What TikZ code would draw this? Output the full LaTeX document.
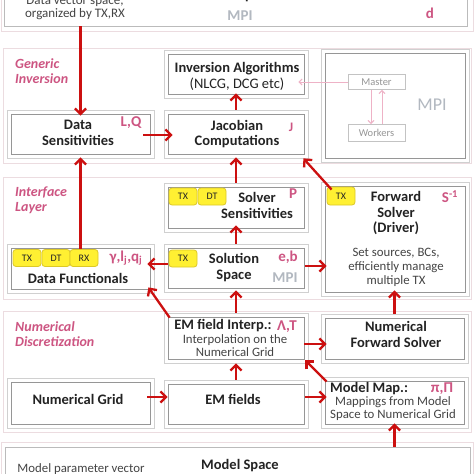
\documentclass[tikz,border=0pt]{standalone}
\usepackage{fontspec}
\setmainfont{Carlito}
\usetikzlibrary{arrows.meta}
\definecolor{arrred}{RGB}{204,16,16}
\definecolor{pinklab}{RGB}{205,85,130}
\definecolor{secline}{RGB}{236,220,224}
\definecolor{boxout}{RGB}{208,208,208}
\definecolor{boxin}{RGB}{150,150,150}
\definecolor{txtc}{RGB}{35,35,35}
\definecolor{mpigray}{RGB}{178,184,192}
\definecolor{tagfill}{RGB}{255,240,50}
\definecolor{tagline}{RGB}{220,200,40}
\definecolor{mpiarr}{RGB}{238,178,198}
\definecolor{mwline}{RGB}{195,195,195}
\definecolor{mwtext}{RGB}{150,150,150}
\begin{document}
\begin{tikzpicture}[x=1pt,y=-1pt,
  sec/.style={draw=secline, line width=0.8pt},
  box/.style={draw=boxout, line width=0.8pt, fill=white, inner sep=0pt,
    path picture={\draw[boxin, line width=0.9pt]
      ([shift={(4pt,-4pt)}]path picture bounding box.north west) rectangle
      ([shift={(-4pt,4pt)}]path picture bounding box.south east);}},
  plainbox/.style={draw=boxout!90!black, line width=0.8pt, fill=white, inner sep=0pt},
  bt/.style={text=txtc, font=\fontsize{14.5}{15.5}\selectfont\bfseries, align=center, inner sep=0pt},
  rt/.style={text=txtc!85, font=\fontsize{12.8}{13.5}\selectfont, align=center, inner sep=0pt},
  pl/.style={text=pinklab, font=\fontsize{15}{15}\selectfont\bfseries, inner sep=0pt},
  seclab/.style={text=pinklab, font=\fontsize{14}{15}\selectfont\bfseries\itshape, align=left, anchor=west, inner sep=0pt},
  tag/.style={draw=tagline, fill=tagfill, rounded corners=3pt, line width=0.8pt,
    minimum width=28pt, minimum height=17pt, inner sep=0pt,
    font=\fontsize{10}{10}\selectfont, text=txtc},
  arr/.style={draw=arrred, line width=2.3pt, -{Straight Barb[length=5.5pt,width=11pt]}},
  parr/.style={draw=mpiarr, line width=1pt, -{Straight Barb[length=3pt,width=6pt]}},
  mw/.style={draw=mwline, line width=0.8pt, minimum width=57pt, inner sep=0pt,
    font=\fontsize{10.5}{10.5}\selectfont, text=mwtext, fill=white},
  mpil/.style={text=mpigray, inner sep=0pt}
]
\useasboundingbox (0,0) rectangle (474,474);
\fill[white] (0,0) rectangle (474,474);

% sections
\draw[sec] (1,-40) rectangle (473,31);
\draw[sec] (3,48) rectangle (471,163);
\draw[sec] (3,177) rectangle (471,299);
\draw[sec] (3,311) rectangle (471,432);
\draw[sec] (1,442) rectangle (473,520);

\node[seclab] (lgi) at (15,71.5) {Generic\\Inversion};
\node[seclab] (lil) at (15,200.5) {Interface\\Layer};
\node[seclab] (lnd) at (15,334.5) {Numerical\\Discretization};

% top data space box
\node[plainbox, minimum width=463pt, minimum height=62pt] (datavec) at (235.5,-5) {};
\node[bt] (tdataspace) at (240,-4) {Data Space};
\node[rt, font=\fontsize{13}{13}\selectfont] (tdatavec) at (75,7.5) {Data vector space,\\organized by TX,RX};
\node[mpil, font=\fontsize{15}{15}\selectfont\bfseries] (mpitop) at (240,16) {MPI};
\node[pl] (ld) at (430,13) {d};

% generic inversion
\node[box, minimum width=144pt, minimum height=48pt] (invalg) at (236,74) {};
\node[bt] (tinv1) at (237,69) {Inversion Algorithms};
\node[bt, font=\fontsize{14.5}{15.5}\selectfont] (tinv2) at (237,84) {(NLCG, DCG etc)};

\node[box, minimum width=144pt, minimum height=48pt] (jac) at (236,134) {};
\node[bt] (tjac) at (237,134) {Jacobian\\Computations};
\node[pl, font=\fontsize{13}{13}\selectfont\bfseries] (lj) at (291,127) {J};

\node[box, minimum width=147pt, minimum height=48pt] (datasens) at (80.5,134) {};
\node[bt] (tds) at (78,133) {Data\\Sensitivities};
\node[pl] (llq) at (131,123) {L,Q};

\node[box, minimum width=148pt, minimum height=113pt] (mpibox) at (395,105.5) {};
\node[mpil, font=\fontsize{18}{18}\selectfont] (mpibig) at (432,105) {MPI};
\node[mw, minimum height=15pt] (master) at (376.5,82) {Master};
\node[mw, minimum height=17pt] (workers) at (376.5,133) {Workers};

% interface layer
\node[box, minimum width=144pt, minimum height=49pt] (solsens) at (236,207.5) {};
\node[tag] (sstx) at (183,196.5) {TX};
\node[tag] (ssdt) at (212,196.5) {DT};
\node[bt] (tss) at (257,205.5) {Solver\\Sensitivities};
\node[pl] (lp) at (293,194) {P};

\node[box, minimum width=144pt, minimum height=48pt] (solspace) at (236,268) {};
\node[tag] (sptx) at (183,258.5) {TX};
\node[bt] (tsp) at (234,267.5) {Solution\\Space};
\node[pl] (leb) at (288,257) {e,b};
\node[mpil, font=\fontsize{15}{15}\selectfont\bfseries] (mpisp) at (285,278) {MPI};

\node[box, minimum width=147pt, minimum height=49pt] (datafunc) at (80.5,268.5) {};
\node[tag] (dftx) at (27,258) {TX};
\node[tag] (dfdt) at (56,258) {DT};
\node[tag] (rx) at (84,258) {RX};
\node[pl] (lgam) at (126,258) {γ,l\textsubscript{j},q\textsubscript{j}};
\node[bt] (tdf) at (78,278) {Data Functionals};

\node[box, minimum width=148pt, minimum height=114pt] (fwdsolver) at (395,239) {};
\node[tag, minimum height=18pt] (fwdtx) at (341,196) {TX};
\node[bt] (tfwd) at (396,213.5) {Forward\\Solver\\(Driver)};
\node[pl] (ls) at (450,197) {S\textsuperscript{-1}};
\node[rt, font=\fontsize{12.8}{14}\selectfont] (tfwd2) at (396,267) {Set sources, BCs,\\efficiently manage\\multiple TX};

% numerical discretization
\node[box, minimum width=144pt, minimum height=50pt] (eminterp) at (236,338) {};
\node[bt] (temi) at (223,326) {EM field Interp.:};
\node[pl] (llt) at (287,327) {Λ,T};
\node[rt, font=\fontsize{12.8}{13}\selectfont] (temi2) at (235,345.5) {Interpolation on the\\Numerical Grid};

\node[box, minimum width=147pt, minimum height=49pt] (numfwd) at (394.5,338.5) {};
\node[bt] (tnf) at (396,334.5) {Numerical\\Forward Solver};

\node[box, minimum width=147pt, minimum height=51pt] (modelmap) at (394.5,402.5) {};
\node[bt, anchor=west] (tmm) at (330,389) {Model Map.:};
\node[pl] (lpi) at (442,389) {π,Π};
\node[rt, font=\fontsize{12.8}{13}\selectfont] (tmm2) at (393,408.5) {Mappings from Model\\Space to Numerical Grid};

\node[box, minimum width=144pt, minimum height=48pt] (emfields) at (236,404) {};
\node[bt] (tef) at (233,399) {EM fields};

\node[box, minimum width=147pt, minimum height=50pt] (numgrid) at (80.5,403) {};
\node[bt] (tng) at (78,399) {Numerical Grid};

% model space
\node[plainbox, minimum width=465pt, minimum height=66pt] (modelspace) at (237.5,480) {};
\node[bt] (tms) at (240,466) {Model Space};
\node[rt, font=\fontsize{12.8}{13}\selectfont] (tmpv) at (81,469) {Model parameter vector};

% MPI arrows
\draw[parr, shorten >=-10pt] (master.west) -- (master.west -| invalg.east);
\draw[parr] ([xshift=-5.5pt]master.south) -- ([xshift=-5.5pt]master.south |- workers.north);
\draw[parr] ([xshift=5.5pt]workers.north) -- ([xshift=5.5pt]workers.north |- master.south);

% red arrows
\draw[arr, shorten >=-6pt] (datavec.south -| datasens.north) -- (datasens.north);
\draw[arr, shorten >=-1pt] (rx.north -| datasens.south) -- (datasens.south);
\draw[arr, shorten <=-11pt, shorten >=-9pt] ([yshift=-1pt]datasens.east) -- ([yshift=-1pt]datasens.east -| jac.west);
\draw[arr, shorten >=-5pt] (jac.north) -- (invalg.south);
\draw[arr, shorten >=-1pt] (solsens.north) -- (jac.south);
\draw[arr] ([shift={(5pt,-3pt)}]fwdtx.north west) -- ([xshift=-5pt]jac.south east);
\draw[arr, shorten >=-7pt] (solspace.north) -- (solsens.south);
\draw[arr, shorten <=-4pt, shorten >=-7pt] ([yshift=4pt]solspace.west) -- ([yshift=4pt]solspace.west -| datafunc.east);
\draw[arr, shorten <=-3pt, shorten >=-6pt] ([yshift=2pt]solspace.east) -- ([yshift=2pt]solspace.east -| fwdsolver.west);
\draw[arr, shorten >=-6pt] (numfwd.north) -- (numfwd.north |- fwdsolver.south);
\draw[arr, shorten >=-2pt] (eminterp.north) -- (solspace.south);
\draw[arr] ([shift={(6pt,-5pt)}]eminterp.north west) -- ([shift={(-6pt,6pt)}]datafunc.south east);
\draw[arr, shorten <=-4pt, shorten >=-6pt] ([yshift=-6pt]eminterp.east) -- ([yshift=-6pt]eminterp.east -| numfwd.west);
\draw[arr] ([shift={(6pt,-5pt)}]modelmap.north west) -- ([shift={(-3pt,3pt)}]eminterp.south east);
\draw[arr] (emfields.north) -- (eminterp.south);
\draw[arr, shorten <=-3pt, shorten >=-6pt] ([yshift=7pt]emfields.east) -- ([yshift=7pt]emfields.east -| modelmap.west);
\draw[arr, shorten <=-7pt, shorten >=-4pt] ([yshift=6pt]numgrid.east) -- ([yshift=6pt]numgrid.east -| emfields.west);
\draw[arr, shorten >=-5pt] (modelmap.south |- modelspace.north) -- (modelmap.south);
\end{tikzpicture}
\end{document}
